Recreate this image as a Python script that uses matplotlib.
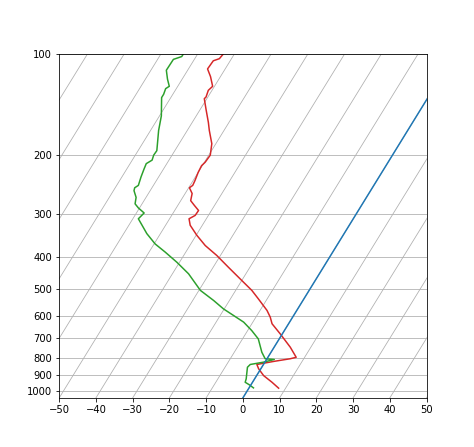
import numpy as np
import matplotlib
matplotlib.use('Agg')
import matplotlib.pyplot as plt
import matplotlib.transforms as mtransforms
from matplotlib.ticker import ScalarFormatter, NullLocator, MultipleLocator

# temperature sounding, pressure in hPa, temperature in degC
p_temp = [983, 944, 902, 861, 836, 819, 804, 796, 743, 678, 633, 605, 578,
          534, 504, 471, 430, 397, 371, 346, 323, 309, 302, 292, 282, 273,
          260, 250, 246, 238, 225, 215, 210, 200, 185, 169, 160, 146, 136,
          134.5, 128.5, 125, 117, 111, 105, 103.5, 100]
temp = [8.1, 5.3, 1.9, -0.6, -1.8, 2.2, 6.3, 7.7, 4.4, -0.6, -4.5, -6.1, -8.1,
        -12.4, -15.6, -20.0, -25.9, -31.0, -35.8, -39.8, -43.3, -44.7, -43.6,
        -43.5, -45.5, -47.3, -48.1, -49.8, -49.3, -49.5, -50.0, -50.2, -49.8,
        -49.6, -51.1, -54.0, -55.6, -58.5, -60.7, -60.5, -61.0, -60.5, -62.7,
        -64.8, -64.6, -63.3, -63.0]

# dewpoint sounding
p_dew = [981, 961, 944, 922, 852, 836, 823, 808, 804, 769, 702, 663, 626,
         598, 572, 540, 504, 450, 416, 388, 367, 342, 323, 309, 297, 287,
         279, 267, 255, 250, 246, 232, 220, 212, 207, 200, 194, 169, 153,
         135, 132, 127, 125, 119, 112, 104, 102, 100]
dewpt = [1.2, -0.4, -2.0, -2.3, -3.9, -3.6, -0.4, 2.1, -0.5, -2.5, -5.7, -8.9,
         -12.5, -16.4, -20.2, -24.3, -29.6, -35.6, -40.7, -45.6, -49.7, -53.7,
         -56.4, -58.5, -57.9, -60.3, -61.9, -62.7, -64.4, -64.7, -64.1, -64.8,
         -65.3, -65.6, -64.6, -65.0, -64.9, -67.8, -69.5, -72.5, -72.5, -72.9,
         -72.3, -74.0, -75.8, -75.7, -73.9, -73.9]

isotherms = np.arange(-100, 51, 10)
pressure_ticks = np.arange(100, 1001, 100)

fig = plt.figure(figsize=(474 / 72, 447 / 72), dpi=72)
ax = fig.add_subplot(111)
ax.set_yscale('log')
ax.set_xlim(-50, 50)
ax.set_ylim(1050, 100)

# skew-T: shear the x direction by 30 degrees in axes space
skew = (ax.transScale + ax.transLimits
        + mtransforms.Affine2D().skew_deg(30, 0) + ax.transAxes)

# skewed isotherm grid
for t in isotherms:
    ax.plot([t, t], [1050, 100], color='#b0b0b0', lw=0.8, zorder=1.5,
            transform=skew)
ax.yaxis.grid(True)

ax.plot(temp, p_temp, color='C3', transform=skew)
ax.plot(dewpt, p_dew, color='C2', transform=skew)
ax.plot([0, 0], [1050, 100], color='C0', transform=skew)

ax.set_yticks(pressure_ticks)
ax.yaxis.set_major_formatter(ScalarFormatter())
ax.yaxis.set_minor_locator(NullLocator())
ax.xaxis.set_major_locator(MultipleLocator(10))
ax.set_xlim(-50, 50)
ax.set_ylim(1050, 100)

fig.savefig('out.png', dpi=72)
